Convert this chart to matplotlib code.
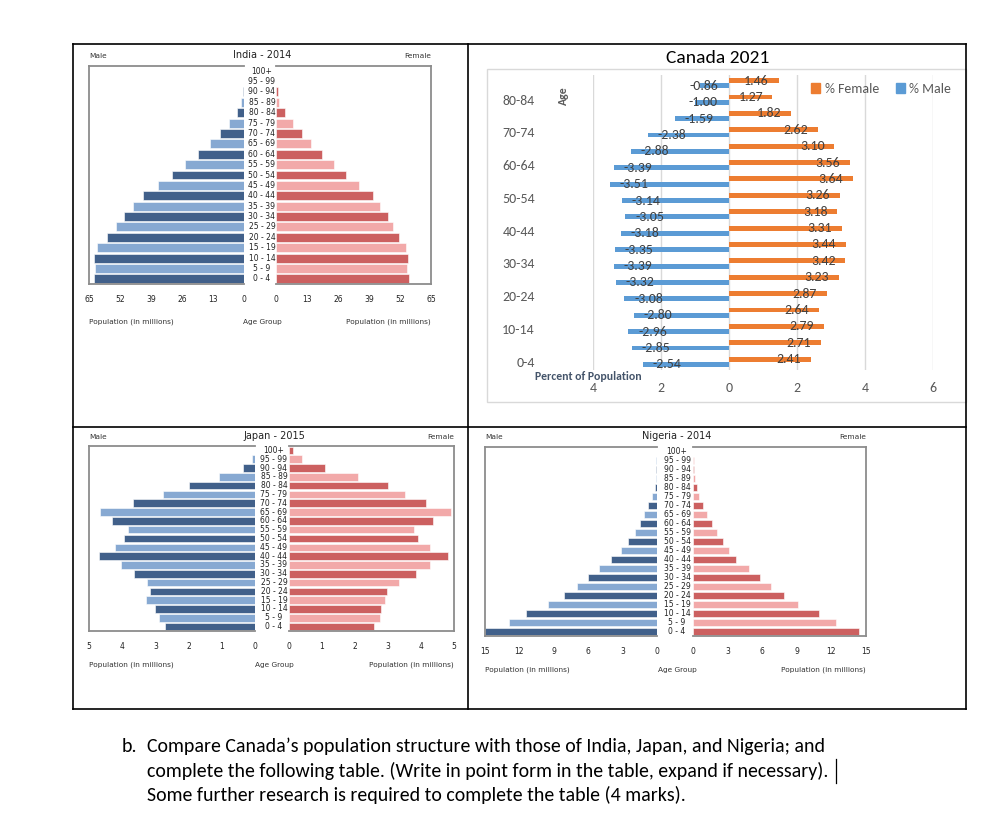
import numpy as np
import matplotlib
matplotlib.use("Agg")
import matplotlib.pyplot as plt
from matplotlib.lines import Line2D
from matplotlib.patches import Rectangle, Patch
from matplotlib.ticker import FuncFormatter

# ---- data ----
ages = ['0 - 4', '5 - 9', '10 - 14', '15 - 19', '20 - 24', '25 - 29', '30 - 34',
        '35 - 39', '40 - 44', '45 - 49', '50 - 54', '55 - 59', '60 - 64', '65 - 69',
        '70 - 74', '75 - 79', '80 - 84', '85 - 89', '90 - 94', '95 - 99', '100+']

india_male = [62.8, 62.5, 62.8, 61.5, 57.6, 53.7, 50.3, 46.4, 42.4, 36.2, 30.3,
              24.6, 19.2, 14.4, 9.9, 6.2, 2.9, 1.1, 0.4, 0.15, 0.05]
india_female = [55.6, 54.9, 55.2, 54.5, 51.5, 49.2, 46.8, 43.8, 40.6, 35.0, 29.4,
                24.4, 19.2, 14.8, 10.9, 7.0, 3.6, 1.4, 0.7, 0.15, 0.05]

japan_male = [2.71, 2.89, 3.00, 3.28, 3.16, 3.24, 3.64, 4.04, 4.70, 4.21, 3.95,
              3.82, 4.30, 4.68, 3.68, 2.78, 1.99, 1.09, 0.37, 0.09, 0.01]
japan_female = [2.59, 2.76, 2.78, 2.91, 2.98, 3.33, 3.84, 4.26, 4.83, 4.28, 3.91,
                3.78, 4.37, 4.90, 4.15, 3.50, 3.01, 2.10, 1.10, 0.39, 0.11]

nigeria_male = [15.0, 12.88, 11.43, 9.49, 8.09, 7.02, 6.03, 5.02, 4.00, 3.16, 2.49,
                1.94, 1.48, 1.16, 0.75, 0.44, 0.20, 0.12, 0.06, 0.05, 0.03]
nigeria_female = [14.39, 12.41, 10.95, 9.09, 7.86, 6.79, 5.83, 4.84, 3.76, 3.09, 2.56,
                  2.04, 1.66, 1.25, 0.87, 0.55, 0.32, 0.15, 0.09, 0.06, 0.03]

canada_ages = ['0-4', '5-9', '10-14', '15-19', '20-24', '25-29', '30-34', '35-39',
               '40-44', '45-49', '50-54', '55-59', '60-64', '65-69', '70-74',
               '75-79', '80-84', '85+']
canada_male = [-2.54, -2.85, -2.96, -2.80, -3.08, -3.32, -3.39, -3.35, -3.18,
               -3.05, -3.14, -3.51, -3.39, -2.88, -2.38, -1.59, -1.00, -0.86]
canada_female = [2.41, 2.71, 2.79, 2.64, 2.87, 3.23, 3.42, 3.44, 3.31, 3.18,
                 3.26, 3.64, 3.56, 3.10, 2.62, 1.82, 1.27, 1.46]

question = ["Compare Canada\u2019s population structure with those of India, Japan, and Nigeria; and",
            "complete the following table. (Write in point form in the table, expand if necessary).",
            "Some further research is required to complete the table (4 marks)."]

W, H = 981, 823
fig = plt.figure(figsize=(W / 100, H / 100), dpi=100)

body_font = ['Carlito', 'Liberation Sans Narrow', 'DejaVu Sans']


def ax_px(l, t, r, b):
    return fig.add_axes([l / W, 1 - b / H, (r - l) / W, (b - t) / H])


def txt(x, y, s, **kw):
    return fig.text(x / W, 1 - y / H, s, **kw)


def hline(x0, x1, y, **kw):
    fig.add_artist(Line2D([x0 / W, x1 / W], [1 - y / H, 1 - y / H], **kw))


def vline(x, y0, y1, **kw):
    fig.add_artist(Line2D([x / W, x / W], [1 - y0 / H, 1 - y1 / H], **kw))


# ---- outer table grid ----
grid_kw = dict(color='black', lw=1.2)
hline(73, 966, 44, **grid_kw)
hline(73, 966, 709, **grid_kw)
hline(73, 966, 427, **grid_kw)
vline(73, 44, 709, **grid_kw)
vline(966, 44, 709, **grid_kw)
vline(468, 44, 709, **grid_kw)

m_dark, m_light = '#41608a', '#87a9d2'
f_dark, f_light = '#cc6060', '#f2a9a9'
frame = '#8c8c8c'


def pyramid(mbox, fbox, male, female, xmax, step, title, head_y, foot_y):
    y = np.arange(len(ages))
    mcols = [m_dark if i % 2 == 0 else m_light for i in y]
    fcols = [f_dark if i % 2 == 0 else f_light for i in y]

    axm = ax_px(*mbox)
    axm.barh(y, male, height=0.86, color=mcols, edgecolor='white', linewidth=0.4)
    axm.set_xlim(xmax, 0)
    axf = ax_px(*fbox)
    axf.barh(y, female, height=0.86, color=fcols, edgecolor='white', linewidth=0.4)
    axf.set_xlim(0, xmax)

    ticks = np.arange(0, xmax + step / 2, step)
    for ax, hide in ((axm, 'right'), (axf, 'left')):
        ax.set_ylim(-0.5, len(ages) - 0.5)
        ax.set_yticks([])
        ax.set_xticks(ticks)
        ax.set_xticklabels([f'{t:g}' for t in ticks])
        ax.tick_params(axis='x', length=0, pad=8, labelsize=5.5, colors='#222222')
        ax.spines[hide].set_visible(False)
        for s in ax.spines.values():
            s.set_color(frame)
            s.set_linewidth(1.3)
        ax.patch.set_alpha(0)

    l, t, r, b = mbox
    fl, ft, fr, fb = fbox
    cx = (r + fl) / 2
    for i, lab in enumerate(ages):
        yy = b - (i + 0.5) * (b - t) / len(ages)
        txt(cx + 2, yy, lab, fontsize=5.5, ha='center', va='center', color='#222222')
    txt(l, head_y, 'Male', fontsize=5.3, ha='left', va='center', color='#333333')
    txt(fr, head_y, 'Female', fontsize=5.3, ha='right', va='center', color='#333333')
    txt(cx + 2, head_y - 1, title, fontsize=7, ha='center', va='center', color='#222222')
    txt(l, foot_y, 'Population (in millions)', fontsize=5.3, ha='left', va='center', color='#333333')
    txt(cx + 2, foot_y, 'Age Group', fontsize=5.3, ha='center', va='center', color='#333333')
    txt(fr, foot_y, 'Population (in millions)', fontsize=5.3, ha='right', va='center', color='#333333')


pyramid((89, 66, 244, 284), (276, 66, 431, 284), india_male, india_female,
        65, 13, 'India - 2014', 56, 322)
pyramid((89, 446, 255, 631), (289, 446, 454, 631), japan_male, japan_female,
        5, 1, 'Japan - 2015', 437, 665)
pyramid((485, 447, 657, 636), (693, 447, 866, 636), nigeria_male, nigeria_female,
        15, 3, 'Nigeria - 2014', 437, 670)

# ---- Canada 2021 (Excel style) ----
fig.add_artist(Rectangle((487 / W, 1 - 402 / H), (966 - 487) / W, (402 - 69) / H,
                         fill=False, edgecolor='#d9d9d9', lw=1.0))
txt(718, 58, 'Canada 2021', fontsize=14, ha='center', va='center',
    family=body_font, color='black')

orange, blue = '#ed7d31', '#5b9bd5'
lab_col = '#595959'
axc = ax_px(593, 75, 933, 370)
yc = np.arange(len(canada_ages))
axc.barh(yc + 0.16, canada_female, height=0.30, color=orange, zorder=3)
axc.barh(yc - 0.16, canada_male, height=0.30, color=blue, zorder=3)
axc.set_xlim(-4, 6)
axc.set_ylim(-0.5, len(canada_ages) - 0.5)
axc.set_xticks([-4, -2, 0, 2, 4, 6])
axc.xaxis.set_major_formatter(FuncFormatter(lambda v, p: f'{abs(v):g}'))
axc.set_yticks(yc[::2])
axc.set_yticklabels(canada_ages[::2])
axc.tick_params(axis='y', length=0, pad=42, labelsize=10, labelcolor=lab_col)
axc.tick_params(axis='x', length=0, pad=9, labelsize=10, labelcolor=lab_col)
for lab in axc.get_xticklabels() + axc.get_yticklabels():
    lab.set_family(body_font)
axc.grid(axis='x', color='#d9d9d9', lw=1.0, zorder=0)
for s in axc.spines.values():
    s.set_visible(False)

for yy, v in zip(yc, canada_female):
    if v > 1.4:
        axc.annotate(f'{v:.2f}', (v, yy + 0.16), xytext=(-7, 0), textcoords='offset points',
                     ha='right', va='center', fontsize=10, color='#404040',
                     family=body_font, zorder=4)
    else:
        axc.annotate(f'{v:.2f}', (0, yy + 0.16), xytext=(7, 0), textcoords='offset points',
                     ha='left', va='center', fontsize=10, color='#404040',
                     family=body_font, zorder=4)
for yy, v in zip(yc, canada_male):
    if v < -1.4:
        axc.annotate(f'{v:.2f}', (v, yy - 0.16), xytext=(7, 0), textcoords='offset points',
                     ha='left', va='center', fontsize=10, color='#404040',
                     family=body_font, zorder=4)
    else:
        axc.annotate(f'{v:.2f}', (0, yy - 0.16), xytext=(-8, 0), textcoords='offset points',
                     ha='right', va='center', fontsize=10, color='#404040',
                     family=body_font, zorder=4)

txt(563, 96, 'Age', rotation=90, fontsize=8.5, fontweight='bold', ha='center',
    va='center', color=lab_col, family=body_font)
txt(535, 377, 'Percent of Population', fontsize=8.5, fontweight='bold', ha='left',
    va='center', color='#44546a', family=body_font)

fig.legend(handles=[Patch(color=orange, label='% Female'), Patch(color=blue, label='% Male')],
           loc='center', bbox_to_anchor=(881 / W, 1 - 89 / H), ncol=2, frameon=False,
           handlelength=0.7, handleheight=0.7, handletextpad=0.3, columnspacing=1.2,
           prop={'family': body_font, 'size': 10}, labelcolor=lab_col)

# ---- question text ----
txt(122, 746, 'b.', fontsize=14.3, ha='left', va='center', family=body_font)
for i, line in enumerate(question):
    txt(147, 746 + 24.5 * i, line, fontsize=14.3, ha='left', va='center', family=body_font)
vline(836, 759, 783, color='black', lw=0.9)

fig.savefig('out.png', dpi=100)
